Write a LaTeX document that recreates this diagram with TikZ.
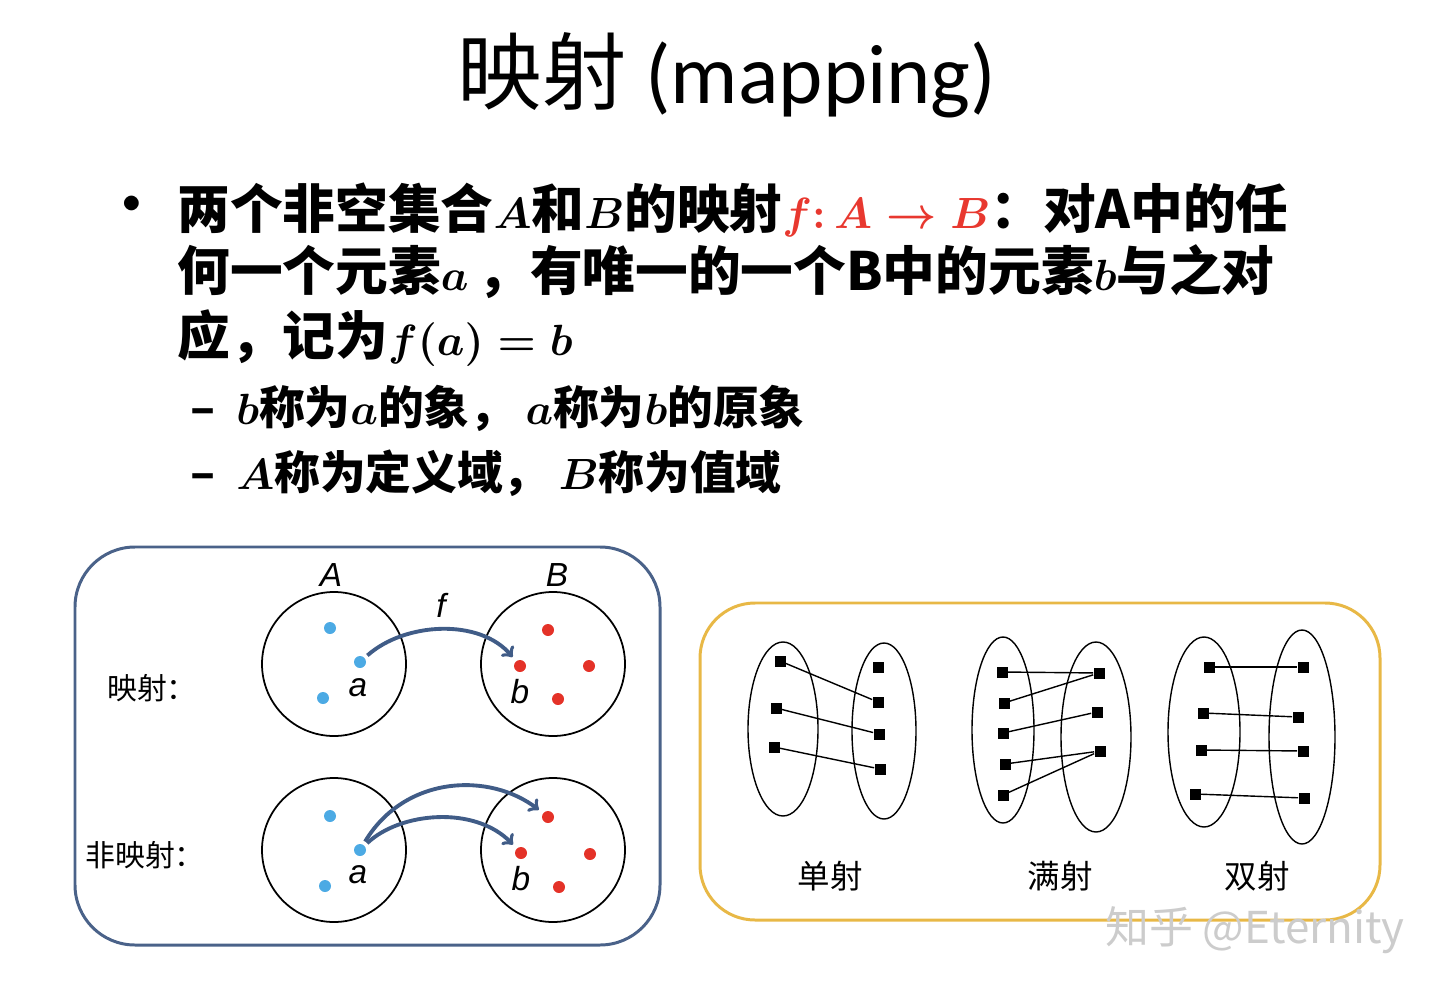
\documentclass[tikz,border=0pt]{standalone}
\usepackage{fontspec}
\setmainfont{Noto Sans CJK SC}
\newfontfamily\titlefont{Carlito}
\newfontfamily\labelfont{Liberation Sans}
\definecolor{dotblue}{RGB}{76,170,228}
\definecolor{dotred}{RGB}{228,50,40}
\definecolor{arrowblue}{RGB}{64,92,135}
\definecolor{boxblue}{RGB}{74,98,137}
\definecolor{boxgold}{RGB}{232,184,70}
\definecolor{textred}{RGB}{232,56,47}
\newcommand\bodyfont{\bfseries\boldmath\fontsize{30}{36}\selectfont}
\newcommand\subfont{\bfseries\boldmath\fontsize{26}{30}\selectfont}

\begin{document}
\begin{tikzpicture}[x=0.02cm,y=-0.02cm,
	bdot/.style={circle,fill=dotblue,inner sep=0pt,minimum size=0.24cm},
	rdot/.style={circle,fill=dotred,inner sep=0pt,minimum size=0.24cm},
	sq/.style={fill=black,inner sep=0pt,minimum size=0.22cm},
	maparr/.style={->,draw=arrowblue,line width=2.2pt,shorten >=3pt,shorten <=2pt},
	setlabel/.style={font=\labelfont\itshape\fontsize{19}{22}\selectfont},
	kindlabel/.style={font=\fontsize{18.5}{22}\selectfont},
	textline/.style={anchor=west,inner sep=0pt}]
	\useasboundingbox (0,0) rectangle (1440,997);
	% title and text
	\node (title) at (727,75) {\fontsize{48}{56}\selectfont 映射\titlefont{} (mapping)};
	\node[font=\bodyfont] (bul) at (132,210) {•};
	\node[textline,font=\bodyfont] (line1) at (177,210) {两个非空集合$A$和$B$的映射\textcolor{textred}{$f{:}\,A\rightarrow B$}：对A中的任};
	\node[textline,font=\bodyfont] (line2) at (177,272) {何一个元素$a$\,，有唯一的一个B中的元素$b$与之对};
	\node[textline,font=\bodyfont] (line3) at (177,338) {应，记为$f(a)=b$};
	\node[textline,font=\subfont] (sub1) at (190,408) {–\ \ $b$称为$a$的象，\ $a$称为$b$的原象};
	\node[textline,font=\subfont] (sub2) at (190,473) {–\ \ $A$称为定义域，\ $B$称为值域};
	% left box
	\draw[boxblue,line width=1.7pt,rounded corners=1.2cm] (75,547) rectangle (660,945);
	\node[font=\fontsize{17}{20}\selectfont] (lblmap) at (152,688) {映射：};
	\node[font=\fontsize{17}{20}\selectfont] (lblnon) at (145,855) {非映射：};
	\draw[line width=1pt] (334,664) circle [radius=72];
	\draw[line width=1pt] (553,664) circle [radius=72];
	\node[setlabel] (labA) at (331,575) {A};
	\node[setlabel] (labB) at (557,575) {B};
	\node[setlabel] (labf) at (441,605) {f};
	\node[bdot] (a1) at (330,628) {};
	\node[bdot] (a2) at (360,662) {};
	\node[bdot] (a3) at (323,698) {};
	\node[setlabel] (laba) at (358,688) {a};
	\node[rdot] (b1) at (548,630) {};
	\node[rdot] (b2) at (520,666) {};
	\node[rdot] (b3) at (589,666) {};
	\node[rdot] (b4) at (558,699) {};
	\node[setlabel] (labb) at (520,692) {b};
	\draw[maparr] (a2) .. controls (405,622) and (480,618) .. (b2);
	\draw[line width=1pt] (334,850) circle [radius=72];
	\draw[line width=1pt] (553,850) circle [radius=72];
	\node[bdot] (c1) at (330,816) {};
	\node[bdot] (c2) at (360,850) {};
	\node[bdot] (c3) at (325,886) {};
	\node[setlabel] (labc) at (358,875) {a};
	\node[rdot] (d1) at (548,817) {};
	\node[rdot] (d2) at (521,853) {};
	\node[rdot] (d3) at (590,854) {};
	\node[rdot] (d4) at (559,887) {};
	\node[setlabel] (labd) at (521,879) {b};
	\draw[maparr] (c2) .. controls (405,775) and (490,772) .. (d1);
	\draw[maparr] (c2) .. controls (400,812) and (475,805) .. (d2);
	% right box
	\draw[boxgold,line width=1.7pt,rounded corners=1.1cm] (700,603) rectangle (1380,920);
	% injective
	\draw[line width=0.8pt] (783,729) ellipse [x radius=35,y radius=87];
	\draw[line width=0.8pt] (884,731) ellipse [x radius=32,y radius=88];
	\node[sq] (il1) at (780,661) {};
	\node[sq] (il2) at (776,708) {};
	\node[sq] (il3) at (774,747) {};
	\node[sq] (ir1) at (878,667) {};
	\node[sq] (ir2) at (878,702) {};
	\node[sq] (ir3) at (879,734) {};
	\node[sq] (ir4) at (880,769) {};
	\draw[line width=0.8pt] (il1) -- (ir2);
	\draw[line width=0.8pt] (il2) -- (ir3);
	\draw[line width=0.8pt] (il3) -- (ir4);
	\node[kindlabel] (inj) at (830,876) {单射};
	% surjective
	\draw[line width=0.8pt] (1003,730) ellipse [x radius=31,y radius=93];
	\draw[line width=0.8pt] (1096,737) ellipse [x radius=35,y radius=95];
	\node[sq] (sl1) at (1002,672) {};
	\node[sq] (sl2) at (1004,703) {};
	\node[sq] (sl3) at (1003,733) {};
	\node[sq] (sl4) at (1005,764) {};
	\node[sq] (sl5) at (1003,795) {};
	\node[sq] (sr1) at (1099,673) {};
	\node[sq] (sr2) at (1097,712) {};
	\node[sq] (sr3) at (1100,751) {};
	\draw[line width=0.8pt] (sl1) -- (sr1);
	\draw[line width=0.8pt] (sl2) -- (sr1);
	\draw[line width=0.8pt] (sl3) -- (sr2);
	\draw[line width=0.8pt] (sl4) -- (sr3);
	\draw[line width=0.8pt] (sl5) -- (sr3);
	\node[kindlabel] (surj) at (1060,876) {满射};
	% bijective
	\draw[line width=0.8pt] (1204,732) ellipse [x radius=36,y radius=95];
	\draw[line width=0.8pt] (1302,737) ellipse [x radius=33,y radius=107];
	\node[sq] (bl1) at (1209,667) {};
	\node[sq] (bl2) at (1203,713) {};
	\node[sq] (bl3) at (1201,750) {};
	\node[sq] (bl4) at (1195,794) {};
	\node[sq] (br1) at (1303,667) {};
	\node[sq] (br2) at (1298,717) {};
	\node[sq] (br3) at (1303,751) {};
	\node[sq] (br4) at (1304,798) {};
	\draw[line width=0.8pt] (bl1) -- (br1);
	\draw[line width=0.8pt] (bl2) -- (br2);
	\draw[line width=0.8pt] (bl3) -- (br3);
	\draw[line width=0.8pt] (bl4) -- (br4);
	\node[kindlabel] (bij) at (1257,876) {双射};
	% watermark
	\node[text=gray!40,font=\fontsize{25}{30}\selectfont] (mark) at (1255,930) {知乎 @Eternity};
\end{tikzpicture}
\end{document}
